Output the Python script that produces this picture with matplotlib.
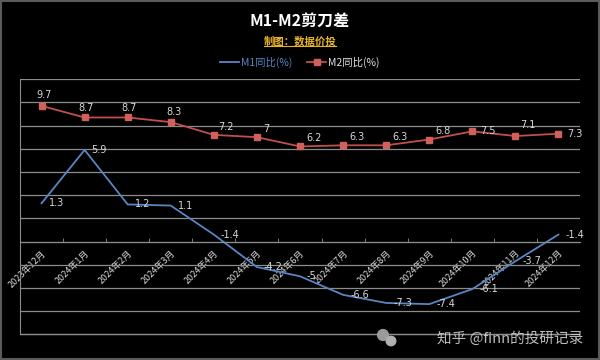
import numpy as np
import matplotlib
matplotlib.use("Agg")
import matplotlib.pyplot as plt
from matplotlib.lines import Line2D
from matplotlib.patches import Rectangle, Ellipse

plt.rcParams['font.family'] = ['Noto Sans CJK SC', 'DejaVu Sans']

months = ['2023年12月', '2024年1月', '2024年2月', '2024年3月', '2024年4月',
          '2024年5月', '2024年6月', '2024年7月', '2024年8月', '2024年9月',
          '2024年10月', '2024年11月', '2024年12月']
m1 = [1.3, 5.9, 1.2, 1.1, -1.4, -4.2, -5.0, -6.6, -7.3, -7.4, -6.1, -3.7, -1.4]
m2 = [9.7, 8.7, 8.7, 8.3, 7.2, 7.0, 6.2, 6.3, 6.3, 6.8, 7.5, 7.1, 7.3]

BLUE = '#5a85c2'
RED = '#c0504d'
LABEL = '#d8d8d8'
GRID = '#8c8c8c'

fig = plt.figure(figsize=(6, 3.6), dpi=100, facecolor='black')
ax = fig.add_axes([20 / 600, 1 - 336 / 360, 560 / 600, 257 / 360])
ax.set_facecolor('black')

x = np.arange(len(months))
ax.plot(x, m1, color=BLUE, lw=1.3, label='M1同比(%)')
ax.plot(x, m2, color=RED, lw=1.3, marker='s', markersize=4,
        markerfacecolor='#d0605c', markeredgecolor='#d0605c', label='M2同比(%)')

# data labels
for i, v in enumerate(m1):
    ax.annotate(f'{v:g}', (i, v), xytext=(5, 0), textcoords='offset points',
                ha='left', va='center', color=LABEL, fontsize=7,
                family='DejaVu Sans')

m2_offsets = [(2, 8), (1, 7), (1, 7), (2, 7), (9, 6), (7, 6), (10, 6), (10, 6),
              (10, 6), (10, 6), (6, 0), (9, 8), (6, 0)]
for i, v in enumerate(m2):
    dx, dy = m2_offsets[i]
    ha = 'center' if dy else 'left'
    ax.annotate(f'{v:g}', (i, v), xytext=(dx, dy), textcoords='offset points',
                ha=ha, va='center', color=LABEL, fontsize=7,
                family='DejaVu Sans')

ax.set_xlim(-0.5, len(months) - 0.5)
ax.set_ylim(-10.15, 12.02)
ax.set_yticks(np.arange(-10, 13, 2))
ax.yaxis.grid(True, color=GRID, lw=0.9)
ax.axhline(-10, color=GRID, lw=0.9, zorder=0.5)
ax.set_axisbelow(True)
ax.tick_params(axis='y', length=0, labelleft=False)

for s in ['top', 'right']:
    ax.spines[s].set_visible(False)
ax.spines['left'].set_color(GRID)
ax.spines['left'].set_bounds(-10, 12)
ax.spines['bottom'].set_color(GRID)
ax.spines['bottom'].set_position(('data', -2))

ax.set_xticks(x)
ax.set_xticklabels(months, rotation=45, ha='right', va='top',
                   rotation_mode='anchor', fontsize=6.5, color=LABEL)
ax.set_xticks(np.arange(0.5, len(months) - 0.5, 1), minor=True)
ax.tick_params(axis='x', which='major', length=0, pad=5)
ax.tick_params(axis='x', which='minor', length=3, direction='in', color=GRID)

# titles
fig.text(0.5, 1 - 21 / 360, 'M1-M2剪刀差', ha='center', va='center',
         color='white', fontsize=11.5, fontweight='bold')
sub = fig.text(0.5, 1 - 41 / 360, '制图：数据价投', ha='center', va='center',
               color='#e8b52a', fontsize=7.5, fontweight='bold')
fig.canvas.draw()
bb = sub.get_window_extent().transformed(fig.transFigure.inverted())
fig.add_artist(Line2D([bb.x0, bb.x1], [bb.y0 + 0.002, bb.y0 + 0.002],
                      transform=fig.transFigure, color='#e8b52a', lw=0.8))

leg = fig.legend(loc='center', bbox_to_anchor=(0.5, 1 - 62 / 360), ncol=2,
                 frameon=False, fontsize=7.5, handlelength=1.8,
                 columnspacing=1.4, handletextpad=0.2)
leg.get_texts()[0].set_color(BLUE)
leg.get_texts()[1].set_color('#e0e0e0')

# watermark
fig.text(583 / 600, 1 - 339 / 360, '知乎 @finn的投研记录', ha='right', va='center',
         color='#d0d0d0', fontsize=10.5, alpha=0.9)
fig.add_artist(Ellipse((383 / 600, 1 - 335 / 360), 0.018, 0.03,
                       transform=fig.transFigure, color='#9a9a9a'))
fig.add_artist(Ellipse((391 / 600, 1 - 341 / 360), 0.016, 0.026,
                       transform=fig.transFigure, color='#b0b0b0'))

# outer border
fig.add_artist(Rectangle((0.002, 0.003), 0.996, 0.994, transform=fig.transFigure,
                         fill=False, edgecolor='#5a5a5a', lw=1.5))

fig.savefig('out.png', dpi=100, facecolor='black')
